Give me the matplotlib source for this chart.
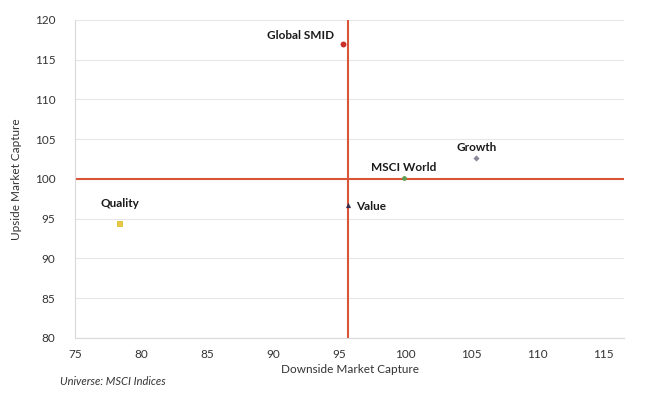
import matplotlib
matplotlib.use("Agg")
import matplotlib.pyplot as plt

names = ["Global SMID", "MSCI World", "Growth", "Value", "Quality"]
downside = [95.3, 99.9, 105.4, 95.7, 78.4]
upside = [117.0, 100.1, 102.6, 96.7, 94.3]
markers = ["o", "o", "D", "^", "s"]
colors = ["#C9302C", "#5E9E50", "#8A8A9A", "#3A2E50", "#E6C744"]
sizes = [18, 12, 10, 14, 18]
label_offsets = [(-6, 6, "right", "center"), (0, 8, "center", "center"),
                 (0, 8, "center", "center"), (6, -1, "left", "center"),
                 (0, 15, "center", "center")]
xticks = [75, 80, 85, 90, 95, 100, 105, 110, 115]
yticks = [80, 85, 90, 95, 100, 105, 110, 115, 120]
vline_x = 95.7
hline_y = 100

plt.rcParams['font.family'] = ['Lato', 'DejaVu Sans']
fig = plt.figure(figsize=(6.5, 3.98), dpi=100)
ax = fig.add_axes([0.1154, 0.1508, 0.8446, 0.799])

for y in yticks:
    ax.axhline(y, color="#E6E6E6", lw=0.8, zorder=0)
ax.axvline(vline_x, color="#D9553A", lw=1.5, zorder=1)
ax.axhline(hline_y, color="#D9553A", lw=1.5, zorder=1)

for n, x, y, m, c, s, (dx, dy, ha, va) in zip(names, downside, upside, markers, colors, sizes, label_offsets):
    ax.scatter([x], [y], marker=m, color=c, s=s, zorder=3, linewidths=0)
    ax.annotate(n, (x, y), xytext=(dx, dy), textcoords="offset points",
                ha=ha, va=va, fontsize=8.5, fontweight="bold", color="#1a1a1a")

ax.set_xlim(75, 116.6)
ax.set_ylim(80, 120)
ax.set_xticks(xticks)
ax.set_yticks(yticks)
ax.tick_params(axis="x", length=0, labelsize=8.5, colors="#333333", pad=8)
ax.tick_params(axis="y", length=0, labelsize=8.5, colors="#333333", pad=14)
for side in ["top", "right"]:
    ax.spines[side].set_visible(False)
for side in ["left", "bottom"]:
    ax.spines[side].set_color("#D9D9D9")
    ax.spines[side].set_linewidth(0.8)

ax.set_xlabel("Downside Market Capture", fontsize=8.5, color="#333333", labelpad=3)
ax.set_ylabel("Upside Market Capture", fontsize=8.5, color="#333333", labelpad=9)
fig.text(0.092, 0.032, "Universe: MSCI Indices", fontsize=8, style="italic", color="#333333")

fig.savefig("out.png", dpi=100)
